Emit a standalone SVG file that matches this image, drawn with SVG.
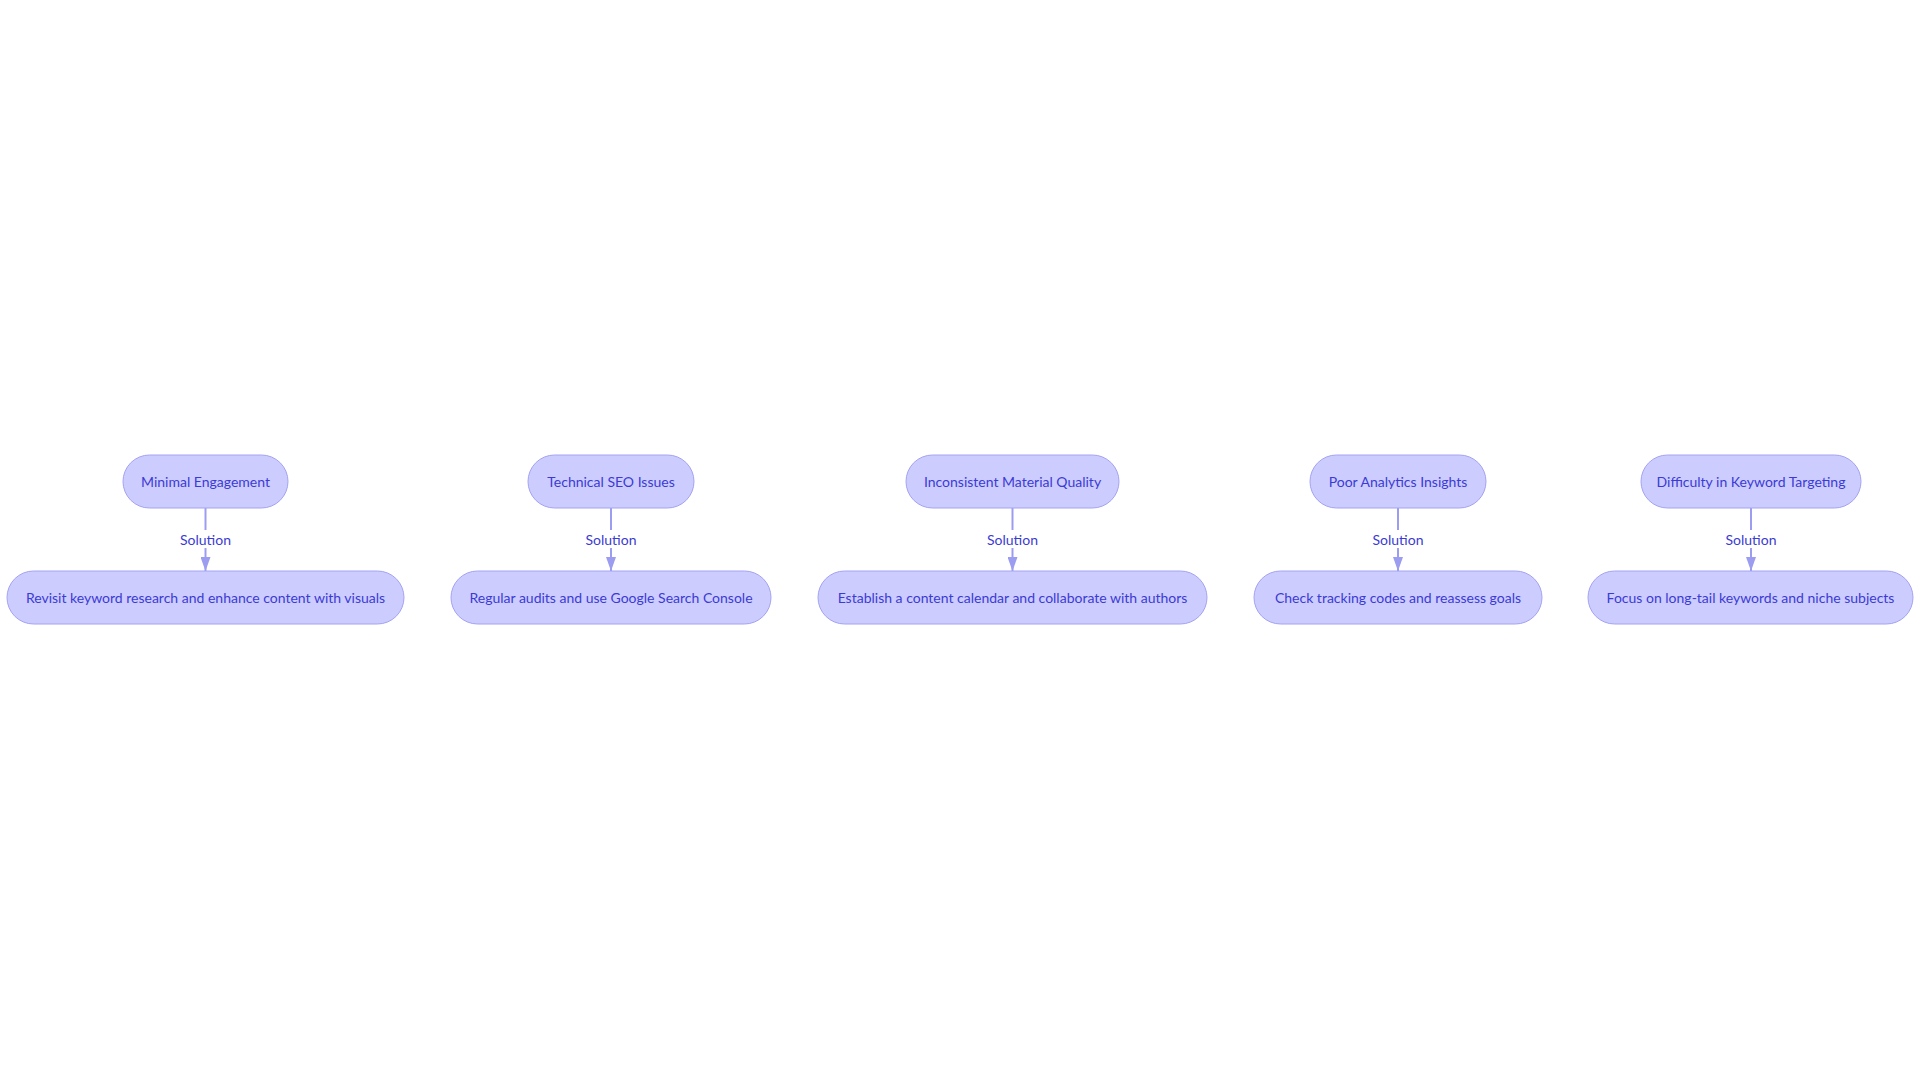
<svg xmlns="http://www.w3.org/2000/svg" width="1920" height="1083" viewBox="0 0 1920 1083">
<style>
.node rect{fill:#CCCCFF;stroke:#A3A3F2;stroke-width:1}
.node text,.lbl text{font-family:"Lato","Open Sans",sans-serif;font-size:14px;fill:#3B3BD4;text-anchor:middle;dominant-baseline:central}
.edge{stroke:#9C9CF0;stroke-width:2;fill:none}
.lbl rect{fill:#FFFFFF}
</style>
<defs>
<marker id="arr" viewBox="0 0 10 10" refX="10" refY="5" markerWidth="14" markerHeight="10" markerUnits="userSpaceOnUse" orient="auto" preserveAspectRatio="none">
<path d="M0,0 L10,5 L0,10 z" fill="#9C9CF0"/>
</marker>
</defs>
<rect width="1920" height="1083" fill="#FFFFFF"/>
<g id="connectors">
<line class="edge" x1="205.5" y1="508" x2="205.5" y2="571" marker-end="url(#arr)"/>
<line class="edge" x1="611" y1="508" x2="611" y2="571" marker-end="url(#arr)"/>
<line class="edge" x1="1012.5" y1="508" x2="1012.5" y2="571" marker-end="url(#arr)"/>
<line class="edge" x1="1398" y1="508" x2="1398" y2="571" marker-end="url(#arr)"/>
<line class="edge" x1="1751" y1="508" x2="1751" y2="571" marker-end="url(#arr)"/>
<g class="lbl"><rect x="180" y="530" width="51" height="18"/><text x="205.5" y="539">Solution</text></g>
<g class="lbl"><rect x="585.5" y="530" width="51" height="18"/><text x="611" y="539">Solution</text></g>
<g class="lbl"><rect x="987" y="530" width="51" height="18"/><text x="1012.5" y="539">Solution</text></g>
<g class="lbl"><rect x="1372.5" y="530" width="51" height="18"/><text x="1398" y="539">Solution</text></g>
<g class="lbl"><rect x="1725.5" y="530" width="51" height="18"/><text x="1751" y="539">Solution</text></g>
</g>
<g id="n1" class="node"><rect x="123" y="455" width="165" height="53" rx="26.5"/><text x="205.5" y="481.5">Minimal Engagement</text></g>
<g id="n1s" class="node"><rect x="7" y="571" width="397" height="53" rx="26.5"/><text x="205.5" y="597.5">Revisit keyword research and enhance content with visuals</text></g>
<g id="n2" class="node"><rect x="528" y="455" width="166" height="53" rx="26.5"/><text x="611" y="481.5">Technical SEO Issues</text></g>
<g id="n2s" class="node"><rect x="451" y="571" width="320" height="53" rx="26.5"/><text x="611" y="597.5">Regular audits and use Google Search Console</text></g>
<g id="n3" class="node"><rect x="906" y="455" width="213" height="53" rx="26.5"/><text x="1012.5" y="481.5">Inconsistent Material Quality</text></g>
<g id="n3s" class="node"><rect x="818" y="571" width="389" height="53" rx="26.5"/><text x="1012.5" y="597.5">Establish a content calendar and collaborate with authors</text></g>
<g id="n4" class="node"><rect x="1310" y="455" width="176" height="53" rx="26.5"/><text x="1398" y="481.5">Poor Analytics Insights</text></g>
<g id="n4s" class="node"><rect x="1254" y="571" width="288" height="53" rx="26.5"/><text x="1398" y="597.5">Check tracking codes and reassess goals</text></g>
<g id="n5" class="node"><rect x="1641" y="455" width="220" height="53" rx="26.5"/><text x="1751" y="481.5">Difficulty in Keyword Targeting</text></g>
<g id="n5s" class="node"><rect x="1588" y="571" width="325" height="53" rx="26.5"/><text x="1750.5" y="597.5">Focus on long-tail keywords and niche subjects</text></g>
</svg>
